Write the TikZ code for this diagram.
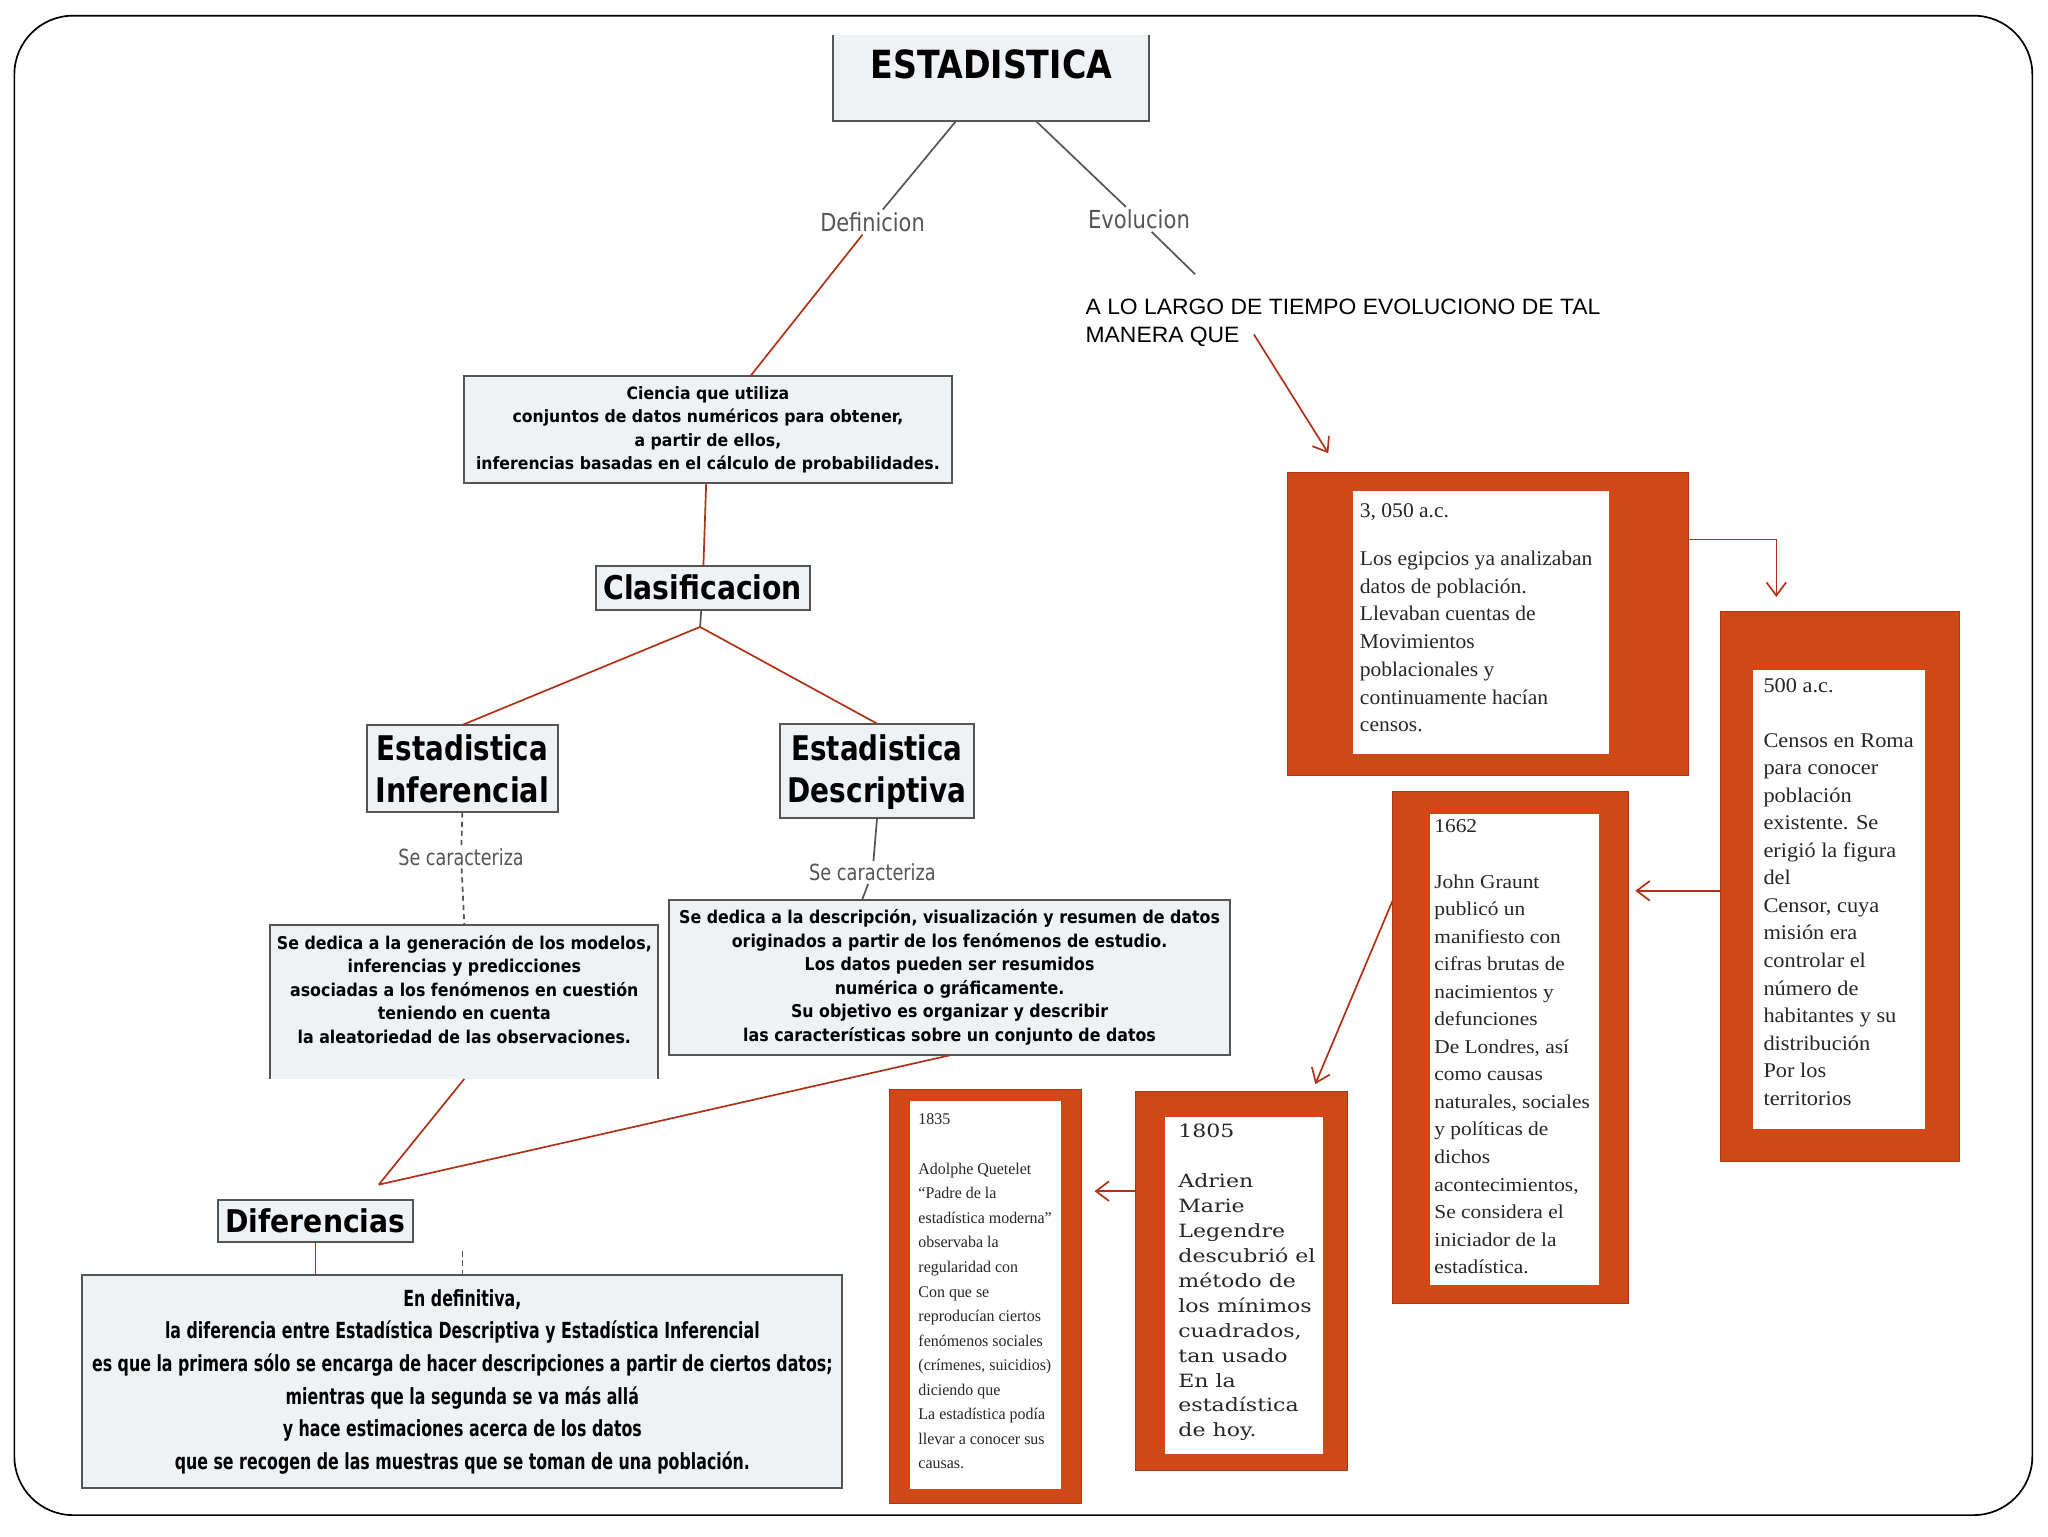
\documentclass[tikz,border=0pt]{standalone}
\usepackage{fontspec}
\usepackage{graphicx}
\setmainfont{Liberation Serif}
\newfontfamily\cmfont{DejaVu Sans}
\newfontfamily\arfont{Liberation Sans}
\newfontfamily\wsfont{DejaVu Serif}
\usetikzlibrary{arrows.meta,calc}
\definecolor{bred}{RGB}{208,72,24}
\definecolor{lred}{RGB}{176,50,22}
\definecolor{gfill}{RGB}{238,242,245}
\definecolor{gedge}{RGB}{85,85,85}
\definecolor{gtext}{RGB}{85,85,85}
\newcommand{\fitw}[2]{\resizebox{#1pt}{\height}{#2}}
\begin{document}
\begin{tikzpicture}[x=1pt,y=-1pt,
  gbox/.style={draw=gedge, line width=1.5pt, fill=gfill, inner sep=0pt, outer sep=0pt, text=black},
  rbox/.style={fill=bred, draw=bred!80!black, line width=0.8pt, inner sep=0pt, outer sep=0pt},
  wbox/.style={fill=white, inner sep=0pt, outer sep=0pt},
  rtext/.style={anchor=base west, inner sep=0pt, text=black!85},
  lab/.style={text=gtext, inner sep=2pt},
  gline/.style={draw=gedge, line width=1.3pt},
  gdash/.style={gline, dash pattern=on 4pt off 3pt},
  rline/.style={draw=lred, line width=1.3pt},
  rarrow/.style={rline, -{Straight Barb[length=10pt,width=15pt]}}]
\useasboundingbox (0,0) rectangle (1568,1176);
\fill[white] (0,0) rectangle (1568,1176);
\draw[line width=1.3pt, rounded corners=45pt] (11,12) rectangle (1556,1160);

% ---- concept map ----
\node[gbox, draw=none, minimum width=242pt, minimum height=66pt, text height=23pt, text depth=23pt,
      font=\cmfont\bfseries\fontsize{29.7}{32}\selectfont] (est) at (759,60) {\fitw{185}{ESTADISTICA}};
\draw[draw=gedge, line width=1.5pt] (est.north west) -- (est.south west) -- (est.south east) -- (est.north east);

\node[lab, font=\cmfont\fontsize{19}{20}\selectfont] (deflab) at (668,170) {\fitw{80}{Definicion}};
\node[lab, font=\cmfont\fontsize{19}{20}\selectfont] (evolab) at (872,168) {\fitw{78}{Evolucion}};

\node[gbox, minimum width=374pt, minimum height=82pt, font=\cmfont\bfseries\fontsize{13}{18}\selectfont] (cien) at (542,329)
 {\fitw{355}{\begin{tabular}{@{}c@{}}Ciencia que utiliza\\conjuntos de datos numéricos para obtener,\\a partir de ellos,\\inferencias basadas en el cálculo de probabilidades.\end{tabular}}};

\node[gbox, minimum width=164pt, minimum height=34pt, font=\cmfont\bfseries\fontsize{25}{28}\selectfont] (clas) at (538,450) {\fitw{152}{Clasificacion}};
\coordinate (j1) at (536,480);

\node[gbox, minimum width=146pt, minimum height=67pt, text height=27.5pt, text depth=39.5pt,
      font=\cmfont\bfseries\fontsize{26}{32}\selectfont] (inf) at (354,588.5)
 {\begin{tabular}[t]{@{}c@{}}\fitw{131}{Estadistica}\\\fitw{133}{Inferencial}\end{tabular}};
\node[gbox, minimum width=149pt, minimum height=72pt, text height=28.5pt, text depth=43.5pt,
      font=\cmfont\bfseries\fontsize{26}{32}\selectfont] (des) at (671.5,590)
 {\begin{tabular}[t]{@{}c@{}}\fitw{131}{Estadistica}\\\fitw{137}{Descriptiva}\end{tabular}};

\node[lab, font=\cmfont\fontsize{17}{18}\selectfont] (sc1) at (353,656) {\fitw{96}{Se caracteriza}};
\node[lab, font=\cmfont\fontsize{17}{18}\selectfont] (sc2) at (668,668) {\fitw{97}{Se caracteriza}};
\coordinate (d2) at (660,689);

\node[gbox, draw=none, minimum width=297pt, minimum height=118pt, font=\cmfont\bfseries\fontsize{13.5}{18}\selectfont] (infd) at (355.5,767)
 {\fitw{287}{\begin{tabular}{@{}c@{}}Se dedica a la generación de los modelos,\\inferencias y predicciones\\asociadas a los fenómenos en cuestión\\teniendo en cuenta\\la aleatoriedad de las observaciones.\\[16pt]\end{tabular}}};
\draw[draw=gedge, line width=1.5pt] (infd.south west) -- (infd.north west) -- (infd.north east) -- (infd.south east);

\node[gbox, minimum width=430pt, minimum height=119pt, font=\cmfont\bfseries\fontsize{13.5}{18}\selectfont] (desd) at (727,748.5)
 {\fitw{414}{\begin{tabular}{@{}c@{}}Se dedica a la descripción, visualización y resumen de datos\\originados a partir de los fenómenos de estudio.\\Los datos pueden ser resumidos\\numérica o gráficamente.\\Su objetivo es organizar y describir\\las características sobre un conjunto de datos\end{tabular}}};

\coordinate (j2) at (290,907);
\node[gbox, minimum width=149pt, minimum height=32pt, font=\cmfont\bfseries\fontsize{24}{28}\selectfont] (dif) at (241.5,935) {\fitw{138}{Diferencias}};
\coordinate (ds) at (354,958);

\node[gbox, minimum width=582pt, minimum height=163pt, font=\cmfont\bfseries\fontsize{17}{25}\selectfont] (fin) at (354,1057.5)
 {\fitw{567}{\begin{tabular}{@{}c@{}}En definitiva,\\la diferencia entre Estadística Descriptiva y Estadística Inferencial\\es que la primera sólo se encarga de hacer descripciones a partir de ciertos datos;\\mientras que la segunda se va más allá\\y hace estimaciones acerca de los datos\\que se recogen de las muestras que se toman de una población.\end{tabular}}};

\node[anchor=base west, inner sep=0pt, font=\arfont\fontsize{17}{21}\selectfont] (evt) at (831,241)
 {\fitw{394}{\begin{tabular}[t]{@{}l@{}}A LO LARGO DE TIEMPO EVOLUCIONO DE TAL\\MANERA QUE\end{tabular}}};
\coordinate (evend) at (915,210);
\coordinate (evs) at (960,256);
\coordinate (eve) at (1017,347);

% connectors (concept map)
\draw[gline] (est) -- (deflab);
\draw[rline] (deflab) -- (cien);
\draw[gline] (est) -- (evolab);
\draw[gline] (evolab) -- (evend);
\draw[rarrow] (evs) -- (eve);
\draw[rline] (cien) -- (clas);
\draw[gline] (clas) -- (j1);
\draw[rline] (j1) -- (inf.north);
\draw[rline] (j1) -- (des.north);
\draw[gdash] (inf.south) -- (sc1);
\draw[gdash] (sc1) -- (infd.north);
\draw[gline] (des.south) -- (sc2);
\draw[gline] (sc2) -- (d2);
\draw[rline] (infd.south) -- (j2);
\draw[rline] (desd.south) -- (j2);
\draw[rline] (dif.south) -- (dif.south |- fin.north);
\draw[gdash] (ds) -- (fin.north);

% ---- timeline boxes ----
\node[rbox, minimum width=307pt, minimum height=232pt] (rA) at (1139.5,478) {};
\node[wbox, minimum width=196pt, minimum height=201pt] (wA) at (1134,476.5) {};
\node[rtext, font=\fontsize{16}{21.2}\selectfont] (tA) at (1041,396)
 {\fitw{178}{\begin{tabular}[t]{@{}l@{}}3, 050 a.c.\\[15.8pt]Los egipcios ya analizaban\\datos de población.\\Llevaban cuentas de\\Movimientos\\poblacionales y\\continuamente hacían\\censos.\end{tabular}}};

\node[rbox, minimum width=183pt, minimum height=421pt] (rB) at (1408.5,678.5) {};
\node[wbox, minimum width=132pt, minimum height=351pt] (wB) at (1408,688.5) {};
\node[rtext, font=\fontsize{16}{21.08}\selectfont] (tB) at (1350,530)
 {\fitw{115}{\begin{tabular}[t]{@{}l@{}}500 a.c.\\[21pt]Censos en Roma\\para conocer\\población\\existente. Se\\erigió la figura\\del\\Censor, cuya\\misión era\\controlar el\\número de\\habitantes y su\\distribución\\Por los\\territorios\end{tabular}}};

\node[rbox, minimum width=181pt, minimum height=392pt] (rC) at (1156.5,802) {};
\node[wbox, minimum width=129pt, minimum height=361pt] (wC) at (1159.5,803.5) {};
\node[rtext, font=\fontsize{15}{21.07}\selectfont] (tC) at (1098,637)
 {\fitw{119}{\begin{tabular}[t]{@{}l@{}}1662\\[22pt]John Graunt\\publicó un\\manifiesto con\\cifras brutas de\\nacimientos y\\defunciones\\De Londres, así\\como causas\\naturales, sociales\\y políticas de\\dichos\\acontecimientos,\\Se considera el\\iniciador de la\\estadística.\end{tabular}}};

\node[rbox, minimum width=163pt, minimum height=290pt] (rD) at (950.5,981) {};
\node[wbox, minimum width=121pt, minimum height=258pt] (wD) at (952.5,984) {};
\node[rtext, font=\wsfont\fontsize{14}{19.1}\selectfont] (tD) at (902,871)
 {\fitw{105}{\begin{tabular}[t]{@{}l@{}}1805\\[19pt]Adrien\\Marie\\Legendre\\descubrió el\\método de\\los mínimos\\cuadrados,\\tan usado\\En la\\estadística\\de hoy.\end{tabular}}};

\node[rbox, minimum width=147pt, minimum height=317pt] (rE) at (754.5,992.5) {};
\node[wbox, minimum width=115pt, minimum height=297pt] (wE) at (754.5,991.5) {};
\node[rtext, font=\fontsize{12.5}{18.8}\selectfont] (tE) at (703,861)
 {\fitw{102}{\begin{tabular}[t]{@{}l@{}}1835\\[19.2pt]Adolphe Quetelet\\“Padre de la\\estadística moderna”\\observaba la\\regularidad con\\Con que se\\reproducían ciertos\\fenómenos sociales\\(crímenes, suicidios)\\diciendo que\\La estadística podía\\llevar a conocer sus\\causas.\end{tabular}}};

% connectors (timeline)
\draw[rarrow] ($(rA.north east)+(0,51)$) -| ($(rB.north west)+(43,-11)$);
\draw[rarrow] ($(rB.west)+(0,3.5)$) -- ($(rC.east |- rB.west)+(5,3.5)$);
\draw[rarrow] ($(rC.north west)+(0,84)$) -- ($(rD.north east)+(-25,-6)$);
\draw[rarrow] ($(rD.north west)+(0,76)$) -- ($(rE.north east)+(10,78)$);
\end{tikzpicture}
\end{document}
